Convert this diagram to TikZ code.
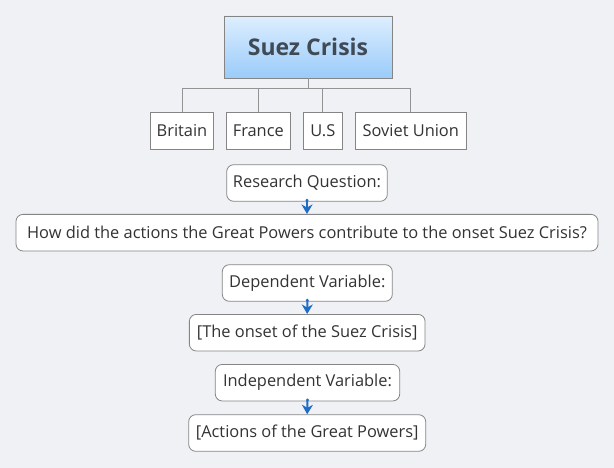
\documentclass[tikz,border=0pt]{standalone}
\usepackage{fontspec}
\setmainfont{Open Sans}
\usetikzlibrary{arrows.meta}
\definecolor{bgc}{HTML}{EFF1F5}
\definecolor{bordc}{HTML}{858585}
\definecolor{txtc}{HTML}{333333}
\definecolor{ttxt}{HTML}{3F4A55}
\definecolor{gtop}{HTML}{DDEEFF}
\definecolor{gbot}{HTML}{9ACBFA}
\definecolor{arrc}{HTML}{1F6CC6}
\begin{document}
\begin{tikzpicture}[x=1pt,y=-1pt,
  subbox/.style={draw=bordc,line width=0.8pt,fill=white,font=\fontsize{16.4}{19}\selectfont,text=txtc,inner sep=0pt},
  rbox/.style={draw=bordc,line width=0.8pt,fill=white,rounded corners=7pt,font=\fontsize{16.4}{19}\selectfont,text=txtc,inner sep=0pt},
  tree/.style={draw=gray!85,line width=0.8pt},
  flow/.style={draw=arrc,line width=2pt,-{Stealth[length=9.5pt,width=11pt,inset=3pt]}}]
\fill[bgc] (0,0) rectangle (614,468);
\useasboundingbox (0,0) rectangle (614,468);
% title
\shade[top color=gtop,bottom color=gbot,draw=bordc,line width=0.8pt] (224,16) rectangle (392,78);
\node[font=\fontsize{23}{27}\selectfont\bfseries,text=ttxt] (title) at (308,47) {Suez Crisis};
\coordinate (tb) at (308,78);
% children
\node[subbox,minimum width=63pt,minimum height=37pt] (brit) at (182,130.5) {Britain};
\node[subbox,minimum width=64pt,minimum height=37pt] (fra) at (258.3,130.5) {France};
\node[subbox,minimum width=39pt,minimum height=37pt] (us) at (322.8,130.5) {U.S};
\node[subbox,minimum width=111pt,minimum height=37pt] (sov) at (410.8,130.5) {Soviet Union};
\coordinate (hj) at (308,88.3);
\draw[tree] (tb) -- (hj);
\draw[tree] (brit.north) -- (brit.north |- hj) -- (sov.north |- hj) -- (sov.north);
\draw[tree] (fra.north) -- (fra.north |- hj);
\draw[tree] (us.north) -- (us.north |- hj);
% flow
\node[rbox,minimum width=160.6pt,minimum height=36.6pt] (rq) at (307,183) {Research Question:};
\node[rbox,minimum width=582pt,minimum height=36.6pt] (q) at (307,232.7) {How did the actions the Great Powers contribute to the onset Suez Crisis?};
\node[rbox,minimum width=170pt,minimum height=36.6pt] (dv) at (307.3,283) {Dependent Variable:};
\node[rbox,minimum width=235.7pt,minimum height=36.6pt] (dvv) at (307.2,332.7) {[The onset of the Suez Crisis]};
\node[rbox,minimum width=184.4pt,minimum height=36.6pt] (iv) at (307.5,382.7) {Independent Variable:};
\node[rbox,minimum width=237pt,minimum height=36.6pt] (ivv) at (307.2,433) {[Actions of the Great Powers]};
\foreach \a/\b in {rq/q,dv/dvv,iv/ivv}{
  \fill[arrc] ([yshift=1.5pt]\a.south) circle (1.6pt);
  \draw[flow] ([yshift=1.5pt]\a.south) -- (\b.north);
}
\end{tikzpicture}
\end{document}
